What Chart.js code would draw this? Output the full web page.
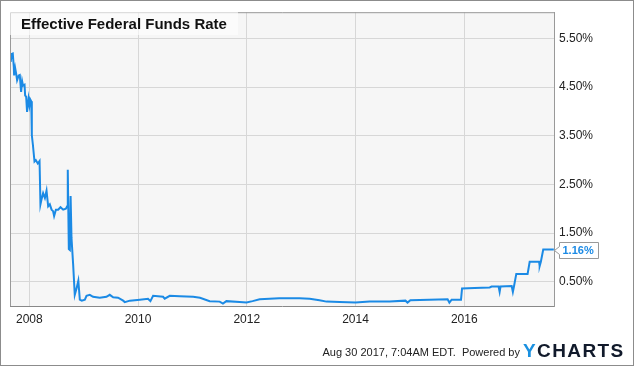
<!DOCTYPE html>
<html>
<head>
<meta charset="utf-8">
<title>Effective Federal Funds Rate</title>
<script src="https://cdn.jsdelivr.net/npm/chart.js@4.4.1/dist/chart.umd.min.js"></script>
<style>
    body { margin: 0; background: #fff; }
    #wrap { position: relative; width: 635px; height: 366px; font-family: "Liberation Sans", Arial, sans-serif; }
    #frame { position: absolute; left: 0; top: 0; width: 632px; height: 364px; border: 1px solid #8c8c8c; }
    canvas { position: absolute; left: 0; top: 0; }
    #title {
        position: absolute; left: 10px; top: 10px; width: 217px; height: 25px;
        padding-left: 11px; line-height: 27px;
        background: rgba(255, 255, 255, 0.6);
        font-weight: bold; font-size: 15px; color: #111; white-space: nowrap;
    }
    #stamp { position: absolute; right: 115px; top: 346px; font-size: 11px; line-height: 13px; color: #222; white-space: pre; }
    #logo { position: absolute; left: 523px; top: 341px; font-size: 19px; line-height: 19px; font-weight: bold; letter-spacing: 1.4px; color: #111a2b; }
    #logo span { color: #1a90e0; }
</style>
</head>
<body>
<div id="wrap">
    <div id="frame"></div>
    <canvas id="rate-chart" width="635" height="366"></canvas>
    <div id="title">Effective Federal Funds Rate</div>
    <div id="stamp">Aug 30 2017, 7:04AM EDT.  Powered by</div>
    <div id="logo"><span>Y</span>CHARTS</div>
</div>
<script>
// weekly-ish readings of the effective fed funds rate, in %
const dates = [
    '2007-08-29', '2007-09-05', '2007-09-12', '2007-09-19', '2007-09-21', '2007-09-28',
    '2007-10-05', '2007-10-11', '2007-10-22', '2007-10-29', '2007-11-07', '2007-11-14',
    '2007-11-20', '2007-11-30', '2007-12-04', '2007-12-11', '2007-12-17', '2007-12-27',
    '2008-01-02', '2008-01-07', '2008-01-14', '2008-01-18', '2008-01-25', '2008-02-05',
    '2008-02-14', '2008-02-27', '2008-03-10', '2008-03-16', '2008-03-23', '2008-04-03',
    '2008-04-15', '2008-04-26', '2008-05-07', '2008-05-18', '2008-05-30', '2008-06-09',
    '2008-06-16', '2008-06-28', '2008-07-13', '2008-07-29', '2008-08-16', '2008-09-03',
    '2008-09-12', '2008-09-16', '2008-09-23', '2008-09-30', '2008-10-05', '2008-10-11',
    '2008-10-22', '2008-11-02', '2008-11-13', '2008-11-26', '2008-12-06', '2008-12-19',
    '2009-01-09', '2009-01-20', '2009-02-11', '2009-03-05', '2009-04-19', '2009-06-03',
    '2009-06-25', '2009-07-18', '2009-08-20', '2009-09-23', '2009-10-04', '2009-11-07',
    '2010-01-13', '2010-03-09', '2010-03-25', '2010-04-12', '2010-06-18', '2010-06-29',
    '2010-08-02', '2010-10-08', '2011-01-06', '2011-02-21', '2011-04-27', '2011-07-03',
    '2011-07-25', '2011-08-17', '2011-11-14', '2011-12-30', '2012-02-09', '2012-03-28',
    '2012-08-06', '2012-12-21', '2013-02-27', '2013-05-04', '2013-06-20', '2013-09-16',
    '2014-01-01', '2014-04-05', '2014-08-18', '2014-12-02', '2014-12-16', '2015-01-04',
    '2015-05-11', '2015-09-11', '2015-09-23', '2015-10-08', '2015-12-10', '2015-12-17',
    '2016-03-10', '2016-06-20', '2016-07-03', '2016-08-19', '2016-08-26', '2016-09-01',
    '2016-11-15', '2016-11-23', '2016-12-01', '2016-12-16', '2017-03-02', '2017-03-16',
    '2017-05-18', '2017-05-22', '2017-05-30', '2017-06-15', '2017-08-25'
];
const rates = [
    5.02, 5.18, 5.19, 4.91, 4.74, 4.89,
    4.77, 4.64, 4.74, 4.75, 4.40, 4.62,
    4.53, 4.55, 4.33, 4.30, 3.99, 4.26,
    4.13, 4.25, 4.21, 3.51, 3.32, 2.97,
    3.00, 2.93, 2.98, 2.09, 2.19, 2.32,
    2.22, 2.37, 2.05, 2.09, 1.98, 1.95,
    1.85, 1.98, 1.98, 2.03, 1.98, 2.00,
    2.05, 2.80, 1.17, 1.15, 2.26, 1.40,
    0.86, 0.23, 0.35, 0.52, 0.13, 0.11,
    0.13, 0.21, 0.23, 0.19, 0.17, 0.19,
    0.23, 0.18, 0.17, 0.11, 0.08, 0.11,
    0.13, 0.15, 0.10, 0.21, 0.19, 0.15,
    0.21, 0.20, 0.19, 0.17, 0.10, 0.09,
    0.05, 0.10, 0.08, 0.07, 0.10, 0.14,
    0.16, 0.16, 0.15, 0.12, 0.09, 0.08,
    0.07, 0.09, 0.09, 0.11, 0.07, 0.12,
    0.13, 0.14, 0.07, 0.13, 0.13, 0.36,
    0.37, 0.38, 0.40, 0.40, 0.29, 0.40,
    0.41, 0.29, 0.41, 0.66, 0.66, 0.91,
    0.91, 0.82, 0.91, 1.16, 1.16
];
const yearTicks = [2008, 2010, 2012, 2014, 2016];
const rateTicks = [0.5, 1.5, 2.5, 3.5, 4.5, 5.5];

const lineColor = '#1b8ae5';
const gridColor = '#d7d7d7';
const labelFont = { family: '"Liberation Sans", Arial, sans-serif', size: 12 };

function toYear(str) {
    const [y, m, d] = str.split('-').map(Number);
    const start = Date.UTC(y, 0, 1);
    const end = Date.UTC(y + 1, 0, 1);
    return y + (Date.UTC(y, m - 1, d) - start) / (end - start);
}

const points = dates.map((d, i) => ({ x: toYear(d), y: rates[i] }));

const plotFrame = {
    id: 'plotFrame',
    beforeDraw(chart) {
        const { ctx, chartArea: a } = chart;
        ctx.save();
        ctx.fillStyle = '#f6f6f6';
        ctx.fillRect(a.left, a.top, a.right - a.left, a.bottom - a.top);
        ctx.restore();
    },
    afterDraw(chart) {
        const { ctx, chartArea: a } = chart;
        ctx.save();
        ctx.strokeStyle = '#999';
        ctx.lineWidth = 1;
        ctx.beginPath();
        ctx.moveTo(a.left + 0.5, a.bottom);
        ctx.lineTo(a.left + 0.5, a.top + 0.5);
        ctx.lineTo(a.right, a.top + 0.5);
        ctx.stroke();

        // last value tag on the right axis
        const last = rates[rates.length - 1];
        const y = Math.round(chart.scales.y.getPixelForValue(last)) + 0.5;
        const x0 = a.right + 0.5;
        const bx = x0 + 5;
        const bw = 39;
        const h = 8;
        ctx.beginPath();
        ctx.moveTo(x0, y);
        ctx.lineTo(bx, y - 4);
        ctx.lineTo(bx, y - h);
        ctx.lineTo(bx + bw, y - h);
        ctx.lineTo(bx + bw, y + h);
        ctx.lineTo(bx, y + h);
        ctx.lineTo(bx, y + 4);
        ctx.closePath();
        ctx.fillStyle = '#fff';
        ctx.fill();
        ctx.strokeStyle = '#999';
        ctx.stroke();
        ctx.fillStyle = lineColor;
        ctx.font = 'bold 11px "Liberation Sans", Arial, sans-serif';
        ctx.textBaseline = 'middle';
        ctx.textAlign = 'left';
        ctx.fillText(last.toFixed(2) + '%', bx + 3, y + 0.5);
        ctx.restore();
    }
};

new Chart(document.getElementById('rate-chart'), {
    type: 'line',
    data: {
        datasets: [{
            label: 'Effective Federal Funds Rate',
            data: points,
            borderColor: lineColor,
            borderWidth: 2,
            pointRadius: 0,
            tension: 0
        }]
    },
    options: {
        responsive: false,
        animation: false,
        events: [],
        layout: { padding: { left: 10, top: 10, right: 0, bottom: 0 } },
        plugins: {
            legend: { display: false },
            tooltip: { enabled: false }
        },
        scales: {
            x: {
                type: 'linear',
                min: 2007.645,
                max: 2017.65,
                afterBuildTicks: (scale) => { scale.ticks = yearTicks.map(v => ({ value: v })); },
                afterFit: (scale) => { scale.height = 60; },
                ticks: {
                    callback: (v) => String(v),
                    font: labelFont,
                    color: '#222',
                    padding: 6,
                    maxRotation: 0,
                    autoSkip: false
                },
                grid: { color: gridColor, drawTicks: false },
                border: { color: '#888' }
            },
            y: {
                position: 'right',
                min: 0,
                max: 6.04,
                afterBuildTicks: (scale) => { scale.ticks = rateTicks.map(v => ({ value: v })); },
                afterFit: (scale) => { scale.width = 81; },
                ticks: {
                    callback: (v) => v.toFixed(2) + '%',
                    font: labelFont,
                    color: '#222',
                    padding: 5
                },
                grid: { color: gridColor, drawTicks: false },
                border: { color: '#999' }
            }
        }
    },
    plugins: [plotFrame]
});
</script>
</body>
</html>
